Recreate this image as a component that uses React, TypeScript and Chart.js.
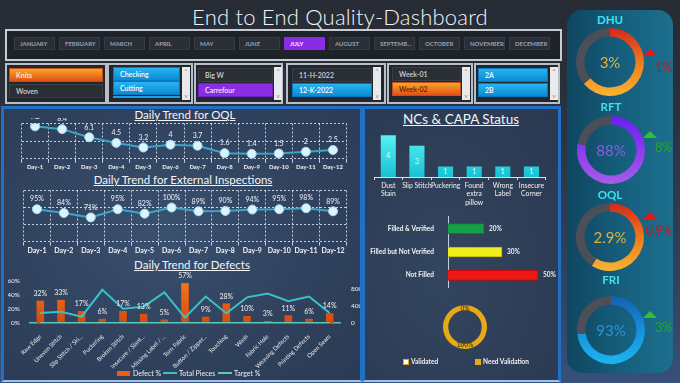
import React, { useEffect, useRef } from "react";
import { Chart, registerables } from "chart.js";

Chart.register(...registerables);
Chart.defaults.font.family = "Lato, 'Open Sans', sans-serif";

// ---------- DATA ----------
const months = ["JANUARY", "FEBRUARY", "MARCH", "APRIL", "MAY", "JUNE", "JULY", "AUGUST", "SEPTEMB...", "OCTOBER", "NOVEMBER", "DECEMBER"];
const selectedMonth = "JULY";

const dayLabels = ["Day-1", "Day-2", "Day-3", "Day-4", "Day-5", "Day-6", "Day-7", "Day-8", "Day-9", "Day-10", "Day-11", "Day-12"];
const oqlValues = [9.2, 8.4, 6.1, 4.5, 3.2, 4, 3.7, 1.6, 1.4, 1.5, 2, 2.5];
const externalValues = [95, 84, 71, 95, 82, 100, 89, 90, 94, 95, 98, 89];

const defectCategories = ["Raw Edge", "Uneven Stitch", "Slip Stitch / Ski...", "Puckering", "Broken Stitch", "Insecure / Slant...", "Missing Label / ...", "Torn Fabric", "Button / Zipper...", "Touching", "Wash", "Fabric Hole", "Weaving Defects", "Printing Defects", "Open Seam"];
const defectSeriesNames = ["Defect %", "Total Pieces", "Target %"];
const defectPct = [32, 33, 17, 6, 17, 13, 5, 57, 9, 28, 10, 3, 11, 6, 14];
const totalPieces = [240, 270, 150, 790, 340, 390, 730, 130, 630, 230, 610, 700, 520, 630, 240];
const targetPct = [0, 0, 0, 0, 0, 0, 0, 0, 0, 0, 0, 0, 0, 0, 0];

const ncCategories = [["Dust", "Stain"], "Slip Stitch", "Puckering", ["Found", "extra", "pillow"], ["Wrong", "Label"], ["Insecure", "Corner"]];
const ncCounts = [4, 3, 1, 1, 1, 1];

const capaCategories = ["Filled & Verified", "Filled but Not Verified", "Not Filled"];
const capaPct = [20, 30, 50];

const validationLabels = ["Validated", "Need Validation"];
const validationPct = [0, 100];

const gaugeNames = ["DHU", "RFT", "OQL", "FRI"];
const gaugeValueText = ["3%", "88%", "2.9%", "93%"];
const gaugeFill = [64, 78, 59, 73];
const gaugeRest = [36, 22, 41, 27];
const gaugeChangeText = ["1%", "8%", "0.9%", "3%"];
const gaugeChangeGood = [false, true, false, true];

// ---------- HELPERS ----------
type LabelOpts = {
  format: (v: number) => string;
  color: string;
  size: number;
  offset: number;
  mode: "above" | "center" | "right";
  datasetIndex?: number;
  bold?: boolean;
};

function valueLabels(o: LabelOpts) {
  return {
    id: "valueLabels",
    afterDatasetsDraw(chart: any) {
      const ctx = chart.ctx;
      const di = o.datasetIndex ?? 0;
      const meta = chart.getDatasetMeta(di);
      const data = chart.data.datasets[di].data;
      ctx.save();
      ctx.font = `${o.bold ? "bold " : ""}${o.size}px Lato, sans-serif`;
      ctx.fillStyle = o.color;
      ctx.textBaseline = "middle";
      ctx.textAlign = o.mode === "right" ? "left" : "center";
      meta.data.forEach((el: any, i: number) => {
        const v = data[i] as number;
        let x = el.x;
        let y = el.y;
        if (o.mode === "center") y = (el.y + el.base) / 2;
        else if (o.mode === "above") y = el.y - o.offset;
        else x = el.x + o.offset;
        ctx.fillText(o.format(v), x, y);
      });
      ctx.restore();
    },
  };
}

function vGradient(top: string, bottom: string) {
  return (c: any) => {
    const ca = c.chart.chartArea;
    if (!ca) return top;
    const g = c.chart.ctx.createLinearGradient(0, ca.top, 0, ca.bottom);
    g.addColorStop(0, top);
    g.addColorStop(1, bottom);
    return g;
  };
}

function ChartBox({ make, left, top, width, height }: any) {
  const ref = useRef<HTMLCanvasElement | null>(null);
  useEffect(() => {
    const chart = new Chart(ref.current as HTMLCanvasElement, make());
    return () => chart.destroy();
  }, []);
  return (
    <div style={{ position: "absolute", left, top, width, height }}>
      <canvas ref={ref} />
    </div>
  );
}

const dotted = "rgba(235,240,250,0.8)";

function trendConfig(values: number[], yMax: number, step: number, fmt: (v: number) => string, labelSize: number, tickSize: number) {
  return () => ({
    type: "line",
    data: {
      labels: dayLabels,
      datasets: [
        {
          data: values,
          borderColor: "#3aa6c8",
          borderWidth: 2,
          pointRadius: 4.5,
          pointBackgroundColor: "#dcf3fb",
          pointBorderColor: "#9fdaf0",
          pointBorderWidth: 1,
          tension: 0,
        },
      ],
    },
    options: {
      animation: false,
      responsive: true,
      maintainAspectRatio: false,
      layout: { padding: { top: 3, left: 0, right: 0, bottom: 0 } },
      plugins: { legend: { display: false }, tooltip: { enabled: false } },
      scales: {
        x: {
          offset: true,
          grid: { offset: true, color: dotted, lineWidth: 1, drawTicks: true, tickLength: 4, borderDash: [2, 2] },
          border: { display: false, dash: [2, 2] },
          ticks: { color: "#f2f2f2", font: { size: tickSize, weight: "bold" }, padding: 1, maxRotation: 0, autoSkip: false },
        },
        y: {
          min: 0,
          max: yMax,
          ticks: { display: false, stepSize: step },
          grid: { color: dotted, lineWidth: 1, drawTicks: false, borderDash: [2, 2] },
          border: { display: false, dash: [2, 2] },
          afterFit: (s: any) => {
            s.width = 0;
          },
        },
      },
    },
    plugins: [valueLabels({ format: fmt, color: "#eef2f6", size: labelSize, offset: 10, mode: "above" })],
  });
}

const defectColors = ["#ec5e12", "#3cc0c8", "#5ccab4"];

const defectsConfig = () => ({
  type: "bar",
  data: {
    labels: defectCategories,
    datasets: [
      {
        type: "bar",
        label: defectSeriesNames[0],
        data: defectPct,
        backgroundColor: vGradient("#f5761f", "#d8490b"),
        categoryPercentage: 0.8,
        barPercentage: 0.46,
        yAxisID: "y",
        order: 2,
      },
      {
        type: "line",
        label: defectSeriesNames[1],
        data: totalPieces,
        borderColor: defectColors[1],
        borderWidth: 2,
        pointRadius: 0,
        tension: 0,
        yAxisID: "y1",
        order: 1,
      },
      {
        type: "line",
        label: defectSeriesNames[2],
        data: targetPct,
        borderColor: defectColors[2],
        borderWidth: 2,
        pointRadius: 0,
        tension: 0,
        yAxisID: "y",
        order: 1,
      },
    ],
  },
  options: {
    animation: false,
    responsive: true,
    maintainAspectRatio: false,
    layout: { padding: { top: 11, left: 0, right: 0, bottom: 0 } },
    plugins: { tooltip: { enabled: false }, legend: { display: false } },
    scales: {
      x: {
        grid: { display: false },
        border: { display: true, color: "#55c8b4", width: 1.5 },
        ticks: { color: "#e8e8e8", font: { size: 6 }, minRotation: 45, maxRotation: 45, autoSkip: false, padding: 2 },
        afterFit: (s: any) => {
          s.height = 57;
        },
      },
      y: {
        position: "left",
        min: 0,
        max: 60,
        ticks: { stepSize: 10, color: "#f0f0f0", font: { size: 6.5 }, padding: 2, callback: (v: any) => v + "%" },
        grid: { display: false },
        border: { display: false },
        afterFit: (s: any) => {
          s.width = 22;
        },
      },
      y1: {
        position: "right",
        min: 0,
        max: 1000,
        ticks: { stepSize: 200, color: "#f0f0f0", font: { size: 6.5 }, padding: 3 },
        grid: { display: false },
        border: { display: false },
        afterFit: (s: any) => {
          s.width = 20;
        },
      },
    },
  },
  plugins: [valueLabels({ format: (v) => v + "%", color: "#f0f0f0", size: 7, offset: 7, mode: "above", datasetIndex: 0 })],
});

const ncConfig = () => ({
  type: "bar",
  data: {
    labels: ncCategories,
    datasets: [
      {
        data: ncCounts,
        backgroundColor: vGradient("#62f8fa", "#17c2d2"),
        categoryPercentage: 0.8,
        barPercentage: 0.66,
      },
    ],
  },
  options: {
    animation: false,
    responsive: true,
    maintainAspectRatio: false,
    layout: { padding: 0 },
    plugins: { legend: { display: false }, tooltip: { enabled: false } },
    scales: {
      x: {
        grid: { display: true, drawOnChartArea: false, drawTicks: true, tickLength: 3, color: "#d8d8d8", offset: true },
        border: { display: true, color: "#e0e0e0", width: 1 },
        ticks: { color: "#f2f2f2", font: { size: 6.8 }, maxRotation: 0, autoSkip: false, padding: 2 },
        afterFit: (s: any) => {
          s.height = 30;
        },
      },
      y: { display: false, min: 0, max: 4.7 },
    },
  },
  plugins: [valueLabels({ format: (v) => String(v), color: "#e8fbff", size: 7, offset: 0, mode: "center" })],
});

const capaConfig = () => ({
  type: "bar",
  data: {
    labels: capaCategories,
    datasets: [
      {
        data: capaPct,
        backgroundColor: ["#17a046", "#f2ee1c", "#f01616"],
        borderColor: ["#0f7a34", "#b8b010", "#c00c0c"],
        borderWidth: 1,
        barThickness: 10,
      },
    ],
  },
  options: {
    indexAxis: "y",
    animation: false,
    responsive: true,
    maintainAspectRatio: false,
    layout: { padding: { right: 18, top: 0, bottom: 0, left: 0 } },
    plugins: { legend: { display: false }, tooltip: { enabled: false } },
    scales: {
      x: { display: false, min: 0, max: 50 },
      y: {
        grid: { display: false },
        border: { display: true, color: "#c8ccd4", width: 1 },
        ticks: { color: "#f2f2f2", font: { size: 6.5, weight: "bold" }, padding: 6 },
        afterFit: (s: any) => {
          s.width = 83;
        },
      },
    },
  },
  plugins: [valueLabels({ format: (v) => v + "%", color: "#eeeeee", size: 6.5, offset: 5, mode: "right", bold: true })],
});

const validationConfig = () => ({
  type: "doughnut",
  data: {
    labels: validationLabels,
    datasets: [{ data: validationPct, backgroundColor: ["#ffffff", "#e6aa14"], borderWidth: 0 }],
  },
  options: {
    animation: false,
    responsive: true,
    maintainAspectRatio: false,
    cutout: "76%",
    plugins: { legend: { display: false }, tooltip: { enabled: false } },
  },
});

const gaugeColors = [
  ["#d4261c", "#ef7a1c", "#f7b431"],
  ["#6a1ef2", "#8a3cf0", "#a65ce8"],
  ["#d4261c", "#ef7a1c", "#f7b431"],
  ["#1260b4", "#1690dc", "#1cb6ee"],
];
const gaugeTextColors = ["#e5b03a", "#8d5ae6", "#e5b03a", "#2a94d6"];

function gaugeConfig(i: number) {
  return () => ({
    type: "doughnut",
    data: {
      labels: ["value", "rest"],
      datasets: [
        {
          data: [gaugeFill[i], gaugeRest[i]],
          backgroundColor: (c: any) => {
            if (c.dataIndex === 1) return "#4c4e58";
            const ca = c.chart.chartArea;
            const [a, b, d] = gaugeColors[i];
            if (!ca) return a;
            const g = c.chart.ctx.createLinearGradient(0, ca.top, 0, ca.bottom);
            g.addColorStop(0, a);
            g.addColorStop(0.5, b);
            g.addColorStop(1, d);
            return g;
          },
          borderWidth: 0,
        },
      ],
    },
    options: {
      animation: false,
      responsive: true,
      maintainAspectRatio: false,
      cutout: "75%",
      plugins: { legend: { display: false }, tooltip: { enabled: false } },
    },
  });
}

// ---------- UI PIECES ----------
const abs = (left: number, top: number, width: number, height: number, extra: any = {}) => ({
  position: "absolute" as const,
  left,
  top,
  width,
  height,
  boxSizing: "border-box" as const,
  ...extra,
});

const itemStyles: any = {
  dark: { background: "#2a2e35", color: "#cfd2d6", border: "1px solid #3a3f47" },
  orange: { background: "linear-gradient(#f8a524, #e2501a)", color: "#fff2e2", border: "1px solid #c0501a" },
  orangeDark: { background: "linear-gradient(#f8a524, #e2501a)", color: "#6a2400", border: "1px solid #c0501a" },
  blue: { background: "linear-gradient(#27b4f2, #0b8bd2)", color: "#ffffff", border: "1px solid #0a78c0" },
  purple: { background: "#8b2de4", color: "#f4eaff", border: "1px solid #7020c0" },
};

function Slicer({ left, width, items, scroll, extraLine }: any) {
  return (
    <div style={abs(left, 63, width, 41, { border: "2px solid #b9bdc5", background: "#22262d" })}>
      {items.map((it: any, k: number) => (
        <div
          key={k}
          style={abs(it.x, it.y, it.w, 14, {
            ...itemStyles[it.kind],
            fontSize: 7,
            lineHeight: "12px",
            paddingLeft: 6,
            fontWeight: 600,
          })}
        >
          {it.text}
        </div>
      ))}
      {extraLine ? <div style={abs(extraLine.x, 31, extraLine.w, 2, { background: "#1aa0e8" })} /> : null}
      {scroll ? (
        <div style={abs(scroll, 2, 8, 33, { background: "#e9eaec", color: "#8a8a8a", fontSize: 6, textAlign: "center" })}>
          <div style={{ lineHeight: "8px" }}>^</div>
          <div style={{ position: "absolute", bottom: 0, width: "100%", lineHeight: "8px" }}>v</div>
        </div>
      ) : null}
    </div>
  );
}

function ChartTitle({ text, cx, cy, size }: any) {
  return (
    <div
      style={{
        position: "absolute",
        left: cx - 150,
        width: 300,
        top: cy - size * 0.62,
        textAlign: "center",
        fontSize: size,
        color: "#f2f4f6",
        textDecoration: "underline",
        lineHeight: 1.2,
        whiteSpace: "nowrap",
      }}
    >
      {text}
    </div>
  );
}

const gaugeCenters = [
  { cx: 610, cy: 62, ty: 20, triY: 53, chY: 67 },
  { cx: 611, cy: 150, ty: 107, triY: 135, chY: 147 },
  { cx: 610, cy: 237, ty: 195, triY: 216, chY: 230 },
  { cx: 611, cy: 330, ty: 280, triY: 315, chY: 327 },
];

const defectLegendX = [117, 163, 218];

export default function App() {
  useEffect(() => {
    document.body.style.margin = "0";
  }, []);

  return (
    <div
      style={{
        position: "fixed",
        left: 0,
        top: 0,
        width: 680,
        height: 383,
        overflow: "hidden",
        fontFamily: "Lato, 'Open Sans', sans-serif",
        background: "linear-gradient(180deg, #262b34 0px, #2a303b 100px, #304464 300px, #38507a 383px)",
      }}
    >
      {/* Title */}
      <div style={abs(0, 2, 680, 30, { textAlign: "center", color: "#f4f5f7", fontSize: 22, fontWeight: 300, lineHeight: "30px", letterSpacing: 0.2 })}>
        End to End Quality-Dashboard
      </div>

      {/* Month bar */}
      <div style={abs(5, 29, 557, 32, { border: "2px solid #c9ccd2", background: "#1e2229" })} />
      {months.map((m, i) => (
        <div
          key={m}
          style={abs(14 + i * 45, 37, 41, 13, {
            background: m === selectedMonth ? "#8a2be6" : "#2a2e36",
            border: m === selectedMonth ? "1px solid #8a2be6" : "1px solid #363b44",
            color: m === selectedMonth ? "#f4ecff" : "#9aa2b0",
            fontSize: 6,
            fontWeight: 700,
            lineHeight: "11px",
            paddingLeft: 5,
            whiteSpace: "nowrap",
            overflow: "hidden",
          })}
        >
          {m}
        </div>
      ))}

      {/* Slicers */}
      <Slicer
        left={5}
        width={102}
        items={[
          { x: 2, y: 3, w: 94, kind: "orange", text: "Knits" },
          { x: 2, y: 19, w: 94, kind: "dark", text: "Woven" },
        ]}
      />
      <Slicer
        left={107}
        width={86}
        items={[
          { x: 4, y: 2, w: 67, kind: "blue", text: "Checking" },
          { x: 4, y: 16, w: 67, kind: "blue", text: "Cutting" },
        ]}
        extraLine={{ x: 4, w: 67 }}
        scroll={73}
      />
      <Slicer
        left={194}
        width={89}
        items={[
          { x: 2, y: 3, w: 75, kind: "dark", text: "Big W" },
          { x: 2, y: 18, w: 75, kind: "purple", text: "Carrefour" },
        ]}
        scroll={78}
      />
      <Slicer
        left={286}
        width={100}
        items={[
          { x: 4, y: 3, w: 80, kind: "dark", text: "11-H-2022" },
          { x: 4, y: 18, w: 80, kind: "blue", text: "12-K-2022" },
        ]}
        scroll={85}
      />
      <Slicer
        left={387}
        width={86}
        items={[
          { x: 3, y: 2, w: 69, kind: "dark", text: "Week-01" },
          { x: 3, y: 17, w: 69, kind: "orangeDark", text: "Week-02" },
        ]}
        scroll={73}
      />
      <Slicer
        left={474}
        width={86}
        items={[
          { x: 2, y: 3, w: 70, kind: "blue", text: "2A" },
          { x: 2, y: 18, w: 70, kind: "blue", text: "2B" },
        ]}
        scroll={74}
      />

      {/* Left panel */}
      <div
        style={abs(1, 106, 362, 276, {
          border: "3px solid #1f70c6",
          borderBottom: "2px solid #9cc0e8",
          background: "radial-gradient(ellipse at 45% 45%, #3a5170 0%, #30425e 55%, #2b3a54 100%)",
        })}
      />
      {/* NCs panel */}
      <div
        style={abs(362, 106, 199, 276, {
          border: "3px solid #1f70c6",
          borderLeft: "3px solid #1f70c6",
          borderBottom: "2px solid #9cc0e8",
          background: "radial-gradient(ellipse at 40% 60%, #33455f 0%, #2d3c55 70%, #2a3850 100%)",
        })}
      />

      {/* Chart titles */}
      <ChartTitle text="Daily Trend for OQL" cx={185} cy={115} size={11.5} />
      <ChartTitle text="Daily Trend for External Inspections" cx={183} cy={180} size={11.5} />
      <ChartTitle text="Daily Trend for Defects" cx={192} cy={265} size={11.5} />
      <ChartTitle text="NCs & CAPA Status" cx={461} cy={119} size={13.5} />

      {/* Charts */}
      <ChartBox make={trendConfig(oqlValues, 10, 5, (v) => String(v), 7, 6)} left={16} top={118} width={336} height={54} />
      <ChartBox make={trendConfig(externalValues, 150, 50, (v) => v + "%", 7, 7)} left={18} top={185} width={334} height={71} />
      <ChartBox make={defectsConfig} left={8} top={270} width={352} height={110} />
      <ChartBox make={ncConfig} left={374} top={128} width={172} height={79} />
      <ChartBox make={capaConfig} left={365} top={207} width={191} height={90} />
      <ChartBox make={validationConfig} left={443} top={305} width={44} height={44} />

      {/* Defects legend */}
      {defectSeriesNames.map((n, i) => (
        <React.Fragment key={n}>
          {i === 0 ? (
            <div style={abs(defectLegendX[i], 371, 13, 5, { background: defectColors[i] })} />
          ) : (
            <div style={abs(defectLegendX[i], 372, 14, 2, { background: defectColors[i] })} />
          )}
          <div style={abs(defectLegendX[i] + 16, 368, 50, 10, { fontSize: 7, color: "#f0f0f0", lineHeight: "10px", whiteSpace: "nowrap" })}>{n}</div>
        </React.Fragment>
      ))}

      {/* Validation doughnut labels */}
      <div style={abs(440, 305, 50, 8, { textAlign: "center", fontSize: 6.5, color: "#5a4410", lineHeight: "8px", fontWeight: 700 })}>
        {validationPct[0]}%
      </div>
      <div style={abs(440, 341, 50, 8, { textAlign: "center", fontSize: 6.5, color: "#5a4410", lineHeight: "8px", fontWeight: 700 })}>
        {validationPct[1]}%
      </div>
      {/* Validation legend */}
      <div style={abs(403, 359, 6, 6, { background: "#ffffff", border: "1.5px solid #e6aa14" })} />
      <div style={abs(411, 357, 60, 10, { fontSize: 6.5, color: "#f0f0f0", fontWeight: 700, lineHeight: "10px" })}>{validationLabels[0]}</div>
      <div style={abs(475, 359, 6, 6, { background: "#e6aa14" })} />
      <div style={abs(483, 357, 70, 10, { fontSize: 6.5, color: "#f0f0f0", fontWeight: 700, lineHeight: "10px" })}>{validationLabels[1]}</div>

      {/* Right KPI panel */}
      <div
        style={abs(567, 10, 106, 363, {
          borderRadius: 15,
          background: "linear-gradient(90deg, #0f4660 0%, #16607e 55%, #1c6f8e 100%)",
        })}
      />
      {gaugeNames.map((name, i) => {
        const g = gaugeCenters[i];
        const good = gaugeChangeGood[i];
        return (
          <React.Fragment key={name}>
            <div style={abs(g.cx - 30, g.ty - 7, 60, 14, { textAlign: "center", color: "#40e2ee", fontSize: 11.5, fontWeight: 700, lineHeight: "14px" })}>
              {name}
            </div>
            <ChartBox make={gaugeConfig(i)} left={g.cx - 34} top={g.cy - 34} width={68} height={68} />
            <div style={abs(g.cx - 30, g.cy - 10, 60, 20, { textAlign: "center", color: gaugeTextColors[i], fontSize: 15, lineHeight: "20px" })}>
              {gaugeValueText[i]}
            </div>
            <div
              style={{
                position: "absolute",
                left: 643,
                top: g.triY - 4,
                width: 0,
                height: 0,
                borderLeft: "7px solid transparent",
                borderRight: "7px solid transparent",
                borderBottom: `7px solid ${good ? "#2ec431" : "#ee1218"}`,
              }}
            />
            <div
              style={abs(640, g.chY - 8, 40, 16, {
                textAlign: "right",
                paddingRight: 8,
                color: good ? "#25a62a" : "#b81e2a",
                fontSize: 13,
                lineHeight: "16px",
                letterSpacing: -0.5,
              })}
            >
              {gaugeChangeText[i]}
            </div>
          </React.Fragment>
        );
      })}
    </div>
  );
}
